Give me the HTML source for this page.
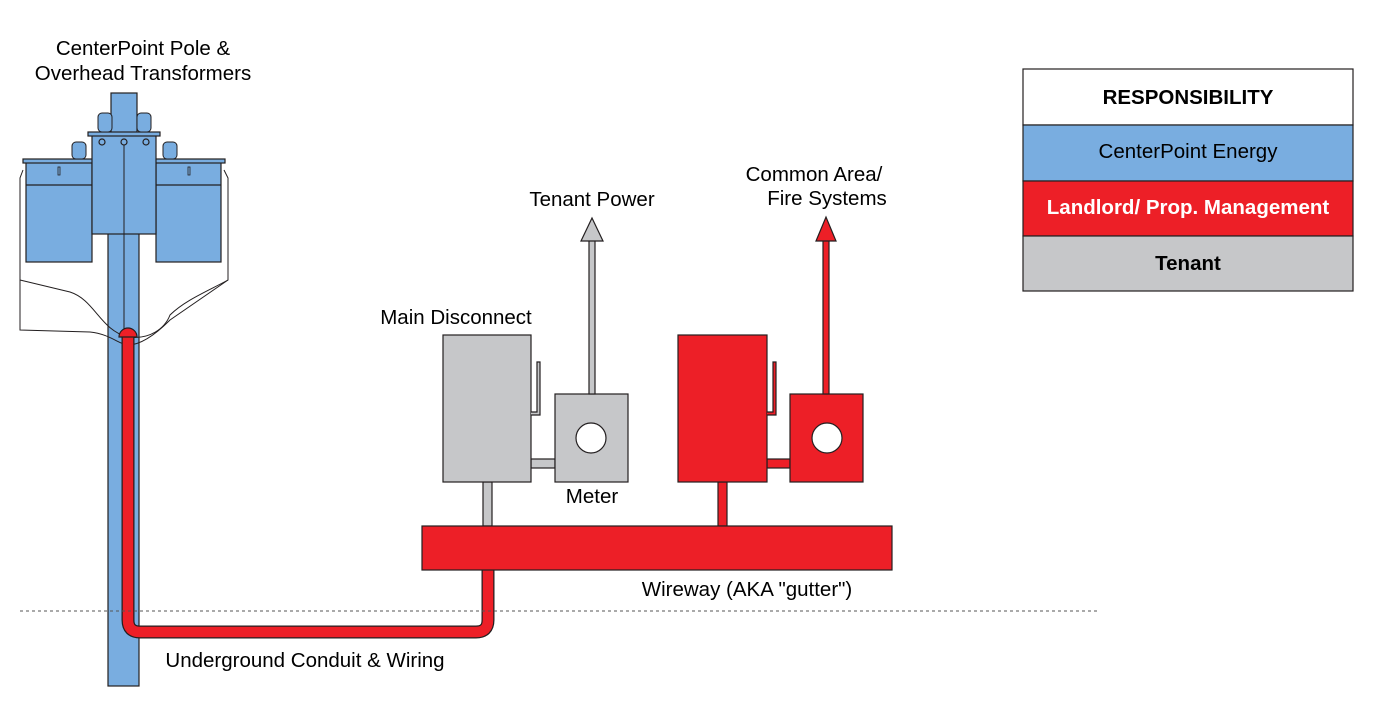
<!DOCTYPE html>
<html><head><meta charset="utf-8"><style>
html,body{margin:0;padding:0;background:#fff}
svg{display:block}
text{font-family:"Liberation Sans",Arial,sans-serif;font-size:20.5px;fill:#000}
</style></head><body>
<svg width="1379" height="705" viewBox="0 0 1379 705" xmlns="http://www.w3.org/2000/svg">
<g stroke="#231f20" stroke-width="1.2">
<rect x="108" y="230" width="31" height="456" fill="#79ade0"/>
<path d="M23,170 L20,178 L20,330 L90,332 C110,334 120,345 128,345 C140,345 155,335 170,320 L228,280 L228,178 L224,170" fill="none" stroke-width="1"/>
<path d="M20,280 L70,292 C95,300 100,330 128,337 C150,340 165,328 170,315 C185,300 210,290 228,280" fill="none" stroke-width="1"/>
<rect x="26" y="162" width="66" height="100" fill="#79ade0"/>
<rect x="156" y="162" width="65" height="100" fill="#79ade0"/>
<rect x="23" y="159" width="70" height="4" fill="#79ade0"/>
<rect x="155" y="159" width="70" height="4" fill="#79ade0"/>
<line x1="26" y1="185" x2="221" y2="185"/>
<rect x="111" y="93" width="26" height="42" fill="#79ade0"/>
<rect x="92" y="135" width="64" height="99" fill="#79ade0"/>
<rect x="88" y="132" width="72" height="4" fill="#79ade0"/>
<line x1="124" y1="145" x2="124" y2="340" stroke-width="1"/>
<circle cx="102" cy="142" r="3" fill="none"/><circle cx="124" cy="142" r="3" fill="none"/><circle cx="146" cy="142" r="3" fill="none"/>
<rect x="58" y="167" width="2" height="8" fill="none" stroke-width="0.8"/>
<rect x="188" y="167" width="2" height="8" fill="none" stroke-width="0.8"/>
<g fill="#79ade0" stroke-width="1">
<rect x="98" y="113" width="14" height="19" rx="4"/><rect x="137" y="113" width="14" height="19" rx="4"/>
<rect x="72" y="142" width="14" height="17" rx="4"/><rect x="163" y="142" width="14" height="17" rx="4"/>
</g>
<path d="M128,335 L128,620 Q128,632 140,632 L476,632 Q488,632 488,620 L488,570" fill="none" stroke="#231f20" stroke-width="13"/>
<path d="M128,335 L128,620 Q128,632 140,632 L476,632 Q488,632 488,620 L488,570" fill="none" stroke="#ed1f27" stroke-width="10.5"/>
<path d="M119,337 A9,9 0 0 1 137,337 Z" fill="#ed1f27"/>
<line x1="20" y1="611" x2="1100" y2="611" stroke="#555" stroke-width="1" stroke-dasharray="3,3"/>
<rect x="483" y="482" width="9" height="44" fill="#c6c7c9"/>
<rect x="718" y="482" width="9" height="44" fill="#ed1f27"/>
<rect x="422" y="526" width="470" height="44" fill="#ed1f27"/>
<rect x="531" y="459" width="24" height="9" fill="#c6c7c9"/>
<rect x="443" y="335" width="88" height="147" fill="#c6c7c9"/>
<path d="M531,415 L540,415 L540,362 L537,362 L537,412 L531,412" fill="#c6c7c9"/>
<rect x="555" y="394" width="73" height="88" fill="#c6c7c9"/>
<circle cx="591" cy="438" r="15" fill="#fff"/>
<rect x="589" y="240" width="6" height="154" fill="#c6c7c9"/>
<path d="M581,241 L592,218 L603,241 Z" fill="#c6c7c9"/>
<rect x="767" y="459" width="23" height="9" fill="#ed1f27"/>
<rect x="678" y="335" width="89" height="147" fill="#ed1f27"/>
<path d="M767,415 L776,415 L776,362 L773,362 L773,412 L767,412" fill="#ed1f27"/>
<rect x="790" y="394" width="73" height="88" fill="#ed1f27"/>
<circle cx="827" cy="438" r="15" fill="#fff"/>
<rect x="823" y="240" width="6" height="154" fill="#ed1f27"/>
<path d="M816,241 L826,217 L836,241 Z" fill="#ed1f27"/>
<rect x="1023" y="69" width="330" height="56" fill="#fff"/>
<rect x="1023" y="125" width="330" height="56" fill="#79ade0"/>
<rect x="1023" y="181" width="330" height="55" fill="#ed1f27"/>
<rect x="1023" y="236" width="330" height="55" fill="#c6c7c9"/>
</g>
<text x="143" y="55" text-anchor="middle">CenterPoint Pole &amp;</text>
<text x="143" y="80" text-anchor="middle">Overhead Transformers</text>
<text x="592" y="206" text-anchor="middle">Tenant Power</text>
<text x="814" y="181" text-anchor="middle">Common Area/</text>
<text x="827" y="205" text-anchor="middle">Fire Systems</text>
<text x="456" y="324" text-anchor="middle">Main Disconnect</text>
<text x="592" y="503" text-anchor="middle">Meter</text>
<text x="747" y="596" text-anchor="middle">Wireway (AKA "gutter")</text>
<text x="305" y="667" text-anchor="middle">Underground Conduit &amp; Wiring</text>
<text x="1188" y="104" text-anchor="middle" font-weight="bold">RESPONSIBILITY</text>
<text x="1188" y="158" text-anchor="middle">CenterPoint Energy</text>
<text x="1188" y="214" text-anchor="middle" font-weight="bold" style="fill:#fff">Landlord/ Prop. Management</text>
<text x="1188" y="270" text-anchor="middle" font-weight="bold">Tenant</text>
</svg>
</body></html>
